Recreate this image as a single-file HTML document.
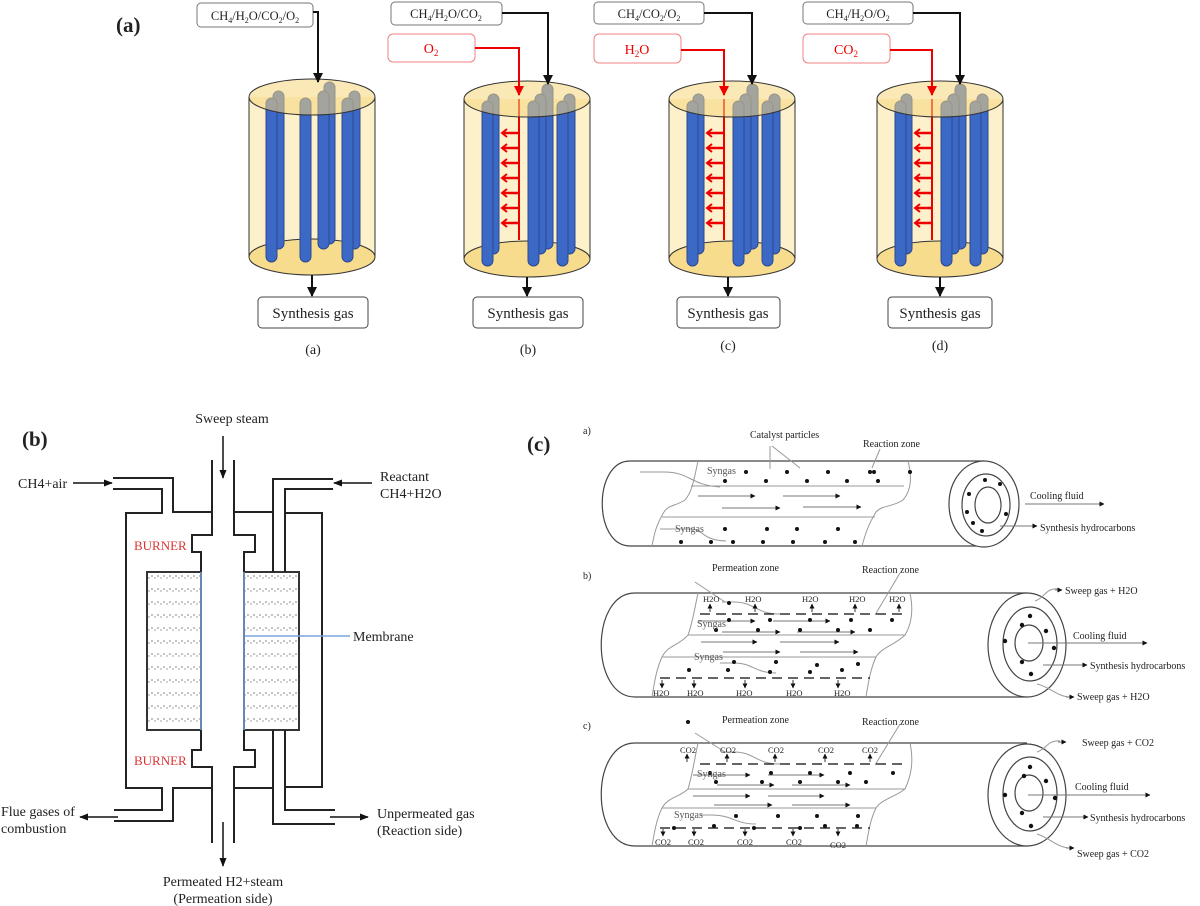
<!DOCTYPE html>
<html><head><meta charset="utf-8"><style>
html,body{margin:0;padding:0;background:#fff}
svg{display:block}
text{font-family:"Liberation Serif",serif;fill:#222}
</style></head><body>
<svg width="1200" height="906" viewBox="0 0 1200 906" xmlns="http://www.w3.org/2000/svg">
<defs>
<marker id="ab" viewBox="0 0 10 10" refX="9" refY="5" markerWidth="5" markerHeight="5" orient="auto"><path d="M0,0L10,5L0,10z" fill="#111"/></marker>
<marker id="ar" viewBox="0 0 10 10" refX="9" refY="5" markerWidth="5" markerHeight="5" orient="auto"><path d="M0,0L10,5L0,10z" fill="#e00"/></marker>
<marker id="as" viewBox="0 0 10 10" refX="9" refY="5" markerWidth="6" markerHeight="6" orient="auto"><path d="M0,1L10,5L0,9z" fill="#111"/></marker>
<pattern id="dots" width="6" height="13" patternUnits="userSpaceOnUse"><circle cx="2" cy="4" r="0.8" fill="#777"/><circle cx="5" cy="6" r="0.7" fill="#888"/></pattern>
<g id="rodsA">
<rect x="12" y="-15" width="11" height="162" rx="5.5" fill="#3d69c6" stroke="#2a4890"/>
<rect x="-39" y="-6" width="11" height="158" rx="5.5" fill="#3d69c6" stroke="#2a4890"/>
<rect x="6" y="-6" width="11" height="158" rx="5.5" fill="#3d69c6" stroke="#2a4890"/>
<rect x="37" y="-6" width="11" height="158" rx="5.5" fill="#3d69c6" stroke="#2a4890"/>
<rect x="-46" y="1" width="11" height="164" rx="5.5" fill="#3d69c6" stroke="#2a4890"/>
<rect x="-12" y="1" width="11" height="164" rx="5.5" fill="#3d69c6" stroke="#2a4890"/>
<rect x="30" y="1" width="11" height="164" rx="5.5" fill="#3d69c6" stroke="#2a4890"/>
</g>
<g id="rodsB">
<rect x="15" y="-15" width="11" height="165" rx="5.5" fill="#3d69c6" stroke="#2a4890"/>
<rect x="-39" y="-5" width="11" height="160" rx="5.5" fill="#3d69c6" stroke="#2a4890"/>
<rect x="8" y="-5" width="11" height="160" rx="5.5" fill="#3d69c6" stroke="#2a4890"/>
<rect x="37" y="-5" width="11" height="160" rx="5.5" fill="#3d69c6" stroke="#2a4890"/>
<rect x="-45" y="2" width="11" height="165" rx="5.5" fill="#3d69c6" stroke="#2a4890"/>
<rect x="1" y="2" width="11" height="165" rx="5.5" fill="#3d69c6" stroke="#2a4890"/>
<rect x="30" y="2" width="11" height="165" rx="5.5" fill="#3d69c6" stroke="#2a4890"/>
</g>
<g id="cylBack">
<rect x="-63" y="0" width="126" height="160" fill="#fdf1cc"/>
<ellipse cx="0" cy="160" rx="63" ry="18" fill="#f7dc8e" stroke="#333" stroke-width="1"/>
</g>
<g id="cylFront">
<ellipse cx="0" cy="0" rx="63" ry="18" fill="#f5d67c" fill-opacity="0.55" stroke="#333" stroke-width="1"/>
<line x1="-63" y1="0" x2="-63" y2="160" stroke="#333"/>
<line x1="63" y1="0" x2="63" y2="160" stroke="#333"/>
</g>
<g id="redArrows" stroke="#e00" stroke-width="2.5" fill="none">
<path d="M-8,34h-16M-8,49h-16M-8,64h-16M-8,79h-16M-8,94h-16M-8,109h-16M-8,124h-16"/>
<path d="M-20,30l-5,4l5,4M-20,45l-5,4l5,4M-20,60l-5,4l5,4M-20,75l-5,4l5,4M-20,90l-5,4l5,4M-20,105l-5,4l5,4M-20,120l-5,4l5,4" stroke-width="2"/>
</g>
</defs>

<text x="116" y="32" font-size="21" font-weight="bold">(a)</text>

<g transform="translate(312,97)"><use href="#cylBack"/><use href="#rodsA"/><use href="#cylFront"/></g>
<rect x="197" y="3" width="116" height="24" rx="4" fill="#fff" stroke="#777"/>
<text x="255" y="20" font-size="12.5" text-anchor="middle">CH<tspan font-size="8" dy="3">4</tspan><tspan dy="-3">/H</tspan><tspan font-size="8" dy="3">2</tspan><tspan dy="-3">O/CO</tspan><tspan font-size="8" dy="3">2</tspan><tspan dy="-3">/O</tspan><tspan font-size="8" dy="3">2</tspan></text>
<path d="M313,12H318V82" stroke="#111" stroke-width="2" fill="none" marker-end="url(#ab)"/>
<path d="M312,275V296" stroke="#111" stroke-width="2" marker-end="url(#ab)"/>
<rect x="258" y="297" width="110" height="31" rx="4" fill="#fff" stroke="#444"/>
<text x="313" y="318" font-size="15" text-anchor="middle">Synthesis gas</text>
<text x="313" y="354" font-size="14" text-anchor="middle">(a)</text>

<g transform="translate(527,99)"><use href="#cylBack"/><use href="#rodsB"/><path d="M-8,0V141" stroke="#e00" stroke-width="2"/><use href="#redArrows"/><use href="#cylFront"/></g>
<g transform="translate(732,99)"><use href="#cylBack"/><use href="#rodsB"/><path d="M-8,0V141" stroke="#e00" stroke-width="2"/><use href="#redArrows"/><use href="#cylFront"/></g>
<g transform="translate(940,99)"><use href="#cylBack"/><use href="#rodsB"/><path d="M-8,0V141" stroke="#e00" stroke-width="2"/><use href="#redArrows"/><use href="#cylFront"/></g>

<rect x="391" y="2" width="111" height="23" rx="4" fill="#fff" stroke="#777"/>
<text x="446" y="18" font-size="12.5" text-anchor="middle">CH<tspan font-size="8" dy="3">4</tspan><tspan dy="-3">/H</tspan><tspan font-size="8" dy="3">2</tspan><tspan dy="-3">O/CO</tspan><tspan font-size="8" dy="3">2</tspan></text>
<path d="M502,13H548V84" stroke="#111" stroke-width="2" fill="none" marker-end="url(#ab)"/>
<rect x="388" y="34" width="87" height="28" rx="5" fill="#fff" stroke="#f08080"/>
<text x="431" y="53" font-size="14" style="fill:#e00" text-anchor="middle">O<tspan font-size="9" dy="3">2</tspan></text>
<path d="M475,48H519V95" stroke="#e00" stroke-width="2" fill="none" marker-end="url(#ar)"/>

<rect x="594" y="2" width="110" height="22" rx="4" fill="#fff" stroke="#777"/>
<text x="649" y="18" font-size="12.5" text-anchor="middle">CH<tspan font-size="8" dy="3">4</tspan><tspan dy="-3">/CO</tspan><tspan font-size="8" dy="3">2</tspan><tspan dy="-3">/O</tspan><tspan font-size="8" dy="3">2</tspan></text>
<path d="M704,13H752V84" stroke="#111" stroke-width="2" fill="none" marker-end="url(#ab)"/>
<rect x="594" y="34" width="87" height="29" rx="5" fill="#fff" stroke="#f08080"/>
<text x="637" y="54" font-size="14" style="fill:#e00" text-anchor="middle">H<tspan font-size="9" dy="3">2</tspan><tspan dy="-3">O</tspan></text>
<path d="M681,50H724V95" stroke="#e00" stroke-width="2" fill="none" marker-end="url(#ar)"/>

<rect x="803" y="2" width="110" height="22" rx="4" fill="#fff" stroke="#777"/>
<text x="858" y="18" font-size="12.5" text-anchor="middle">CH<tspan font-size="8" dy="3">4</tspan><tspan dy="-3">/H</tspan><tspan font-size="8" dy="3">2</tspan><tspan dy="-3">O/O</tspan><tspan font-size="8" dy="3">2</tspan></text>
<path d="M913,13H960V84" stroke="#111" stroke-width="2" fill="none" marker-end="url(#ab)"/>
<rect x="803" y="34" width="87" height="29" rx="5" fill="#fff" stroke="#f08080"/>
<text x="846" y="54" font-size="14" style="fill:#e00" text-anchor="middle">CO<tspan font-size="9" dy="3">2</tspan></text>
<path d="M890,50H932V95" stroke="#e00" stroke-width="2" fill="none" marker-end="url(#ar)"/>

<path d="M527,277V296" stroke="#111" stroke-width="2" marker-end="url(#ab)"/>
<rect x="473" y="297" width="110" height="31" rx="4" fill="#fff" stroke="#444"/>
<text x="528" y="318" font-size="15" text-anchor="middle">Synthesis gas</text>
<text x="528" y="354" font-size="14" text-anchor="middle">(b)</text>
<path d="M728,277V296" stroke="#111" stroke-width="2" marker-end="url(#ab)"/>
<rect x="677" y="297" width="103" height="31" rx="4" fill="#fff" stroke="#444"/>
<text x="728" y="318" font-size="15" text-anchor="middle">Synthesis gas</text>
<text x="728" y="350" font-size="14" text-anchor="middle">(c)</text>
<path d="M940,277V296" stroke="#111" stroke-width="2" marker-end="url(#ab)"/>
<rect x="888" y="297" width="104" height="31" rx="4" fill="#fff" stroke="#444"/>
<text x="940" y="318" font-size="15" text-anchor="middle">Synthesis gas</text>
<text x="940" y="350" font-size="14" text-anchor="middle">(d)</text>

<text x="22" y="446" font-size="21" font-weight="bold">(b)</text>
<rect x="147" y="572" width="54" height="158" fill="url(#dots)" stroke="#333" stroke-width="2"/>
<rect x="244" y="572" width="55" height="158" fill="url(#dots)" stroke="#333" stroke-width="2"/>
<g stroke="#222" stroke-width="2" fill="none">
<path d="M113,478H173V512H212"/>
<path d="M212,460V535H192V552H201V572M201,730V750H192V767H212V843"/>
<path d="M113,489H162V513H126V788H162V810H114"/>
<path d="M114,821H173V788H212"/>
<path d="M234,460V535H255V552H244V572M244,730V750H255V767H234V843"/>
<path d="M234,512H273V479H333"/>
<path d="M333,489H285V572"/>
<path d="M273,512V572"/>
<path d="M285,513H322V787H285"/>
<path d="M234,788H273"/>
<path d="M273,730V824H335"/>
<path d="M285,730V810H335"/>
</g>
<g stroke="#7aa3e0" stroke-width="1.5"><line x1="201" y1="572" x2="201" y2="730"/><line x1="244" y1="572" x2="244" y2="730"/><line x1="245" y1="636" x2="350" y2="636"/></g>
<g stroke="#111" stroke-width="1.5" fill="none">
<path d="M223,436V478" marker-end="url(#as)"/>
<path d="M73,483H112" marker-end="url(#as)"/>
<path d="M372,483H334" marker-end="url(#as)"/>
<path d="M118,817H80" marker-end="url(#as)"/>
<path d="M330,817H368" marker-end="url(#as)"/>
<path d="M223,822V866" marker-end="url(#as)"/>
</g>
<g font-size="14">
<text x="232" y="423" text-anchor="middle">Sweep steam</text>
<text x="18" y="488">CH4+air</text>
<text x="380" y="481">Reactant</text>
<text x="380" y="498">CH4+H2O</text>
<text x="134" y="550" font-size="13" style="fill:#d33">BURNER</text>
<text x="134" y="765" font-size="13" style="fill:#d33">BURNER</text>
<text x="353" y="641">Membrane</text>
<text x="1" y="816">Flue gases of</text>
<text x="1" y="833">combustion</text>
<text x="377" y="818">Unpermeated gas</text>
<text x="377" y="835">(Reaction side)</text>
<text x="223" y="886" text-anchor="middle">Permeated H2+steam</text>
<text x="223" y="903" text-anchor="middle">(Permeation side)</text>
</g>

<text x="527" y="451" font-size="21" font-weight="bold">(c)</text>
<g font-size="10">
<text x="583" y="434">a)</text>
<text x="583" y="579">b)</text>
<text x="583" y="729">c)</text>
</g>

<g fill="none" stroke="#444" stroke-width="1.2">
<path d="M984,461H630C593,461 593,546 630,546H984"/>
<ellipse cx="984" cy="504" rx="35" ry="43" fill="#fff"/>
<ellipse cx="986" cy="505" rx="24" ry="31"/>
<ellipse cx="988" cy="505" rx="13" ry="18"/>
</g>
<g fill="none" stroke="#999" stroke-width="1">
<path d="M698,461C694,480 692,492 685,500C676,506 668,505 664,512C656,525 654,535 652,546"/>
<path d="M908,461C913,480 910,492 903,500C893,507 882,505 876,512C868,525 865,535 862,546"/>
<path d="M691,486H904M662,517H875"/>
<path d="M640,472H664C690,472 690,485 720,487"/>
<path d="M660,529H690C705,529 700,540 726,541"/>
<path d="M770,446L770,469M772,446L800,468M880,449L872,468"/>
</g>
<g stroke="#777" stroke-width="1" marker-end="url(#ab)">
<path d="M698,496H755"/><path d="M783,496H840"/><path d="M722,508H780"/><path d="M803,507H861"/>
<path d="M1025,504H1104"/><path d="M1000,526H1037"/>
</g>
<g fill="#111">
<circle cx="746" cy="472" r="2"/><circle cx="787" cy="472" r="2"/><circle cx="828" cy="472" r="2"/><circle cx="870" cy="472" r="2"/><circle cx="874" cy="472" r="2"/><circle cx="910" cy="472" r="2"/>
<circle cx="725" cy="481" r="2"/><circle cx="766" cy="481" r="2"/><circle cx="807" cy="481" r="2"/><circle cx="847" cy="481" r="2"/><circle cx="878" cy="481" r="2"/>
<circle cx="725" cy="529" r="2"/><circle cx="767" cy="529" r="2"/><circle cx="797" cy="529" r="2"/><circle cx="838" cy="529" r="2"/>
<circle cx="681" cy="542" r="2"/><circle cx="711" cy="542" r="2"/><circle cx="733" cy="542" r="2"/><circle cx="763" cy="542" r="2"/><circle cx="793" cy="542" r="2"/><circle cx="825" cy="542" r="2"/><circle cx="855" cy="542" r="2"/>
<circle cx="985" cy="480" r="2"/><circle cx="1000" cy="484" r="2"/><circle cx="969" cy="494" r="2"/><circle cx="967" cy="512" r="2"/><circle cx="1006" cy="514" r="2"/><circle cx="973" cy="523" r="2"/><circle cx="982" cy="531" r="2"/>
</g>
<g font-size="10">
<text x="750" y="438">Catalyst particles</text>
<text x="863" y="447">Reaction zone</text>
<text x="707" y="474" style="fill:#555">Syngas</text>
<text x="675" y="532" style="fill:#555">Syngas</text>
<text x="1030" y="499">Cooling fluid</text>
<text x="1040" y="531">Synthesis hydrocarbons</text>
</g>

<g fill="none" stroke="#444" stroke-width="1.2">
<path d="M1027,593H635C590,593 590,697 635,697H1027"/>
<ellipse cx="1027" cy="645" rx="39" ry="52" fill="#fff"/>
<ellipse cx="1030" cy="644" rx="27" ry="37"/>
<ellipse cx="1029" cy="643" rx="14" ry="18"/>
</g>
<g fill="none" stroke="#999" stroke-width="1">
<path d="M698,593C694,612 692,625 688,635C680,645 668,645 662,657C656,670 654,685 652,697"/>
<path d="M910,593C914,612 911,625 905,635C895,645 882,647 876,657C870,670 868,685 866,697"/>
<path d="M688,635H905M662,657H876"/>
<path d="M725,602L695,582M875,615L900,573M1035,601C1045,598 1045,588 1058,589M1037,684C1050,687 1055,695 1068,697"/>
<path d="M722,602H734C755,602 755,614 780,614"/>
<path d="M720,663H735C752,663 755,673 776,673"/>
</g>
<g stroke="#333" stroke-width="1.6" stroke-dasharray="10,6">
<path d="M700,614H905"/><path d="M660,678H870"/>
</g>
<g stroke="#333" stroke-width="1" marker-end="url(#ab)">
<path d="M710,612V604"/><path d="M755,612V604"/><path d="M812,612V604"/><path d="M855,612V604"/><path d="M899,612V604"/>
<path d="M662,680V688"/><path d="M694,680V688"/><path d="M745,680V688"/><path d="M793,680V688"/><path d="M838,680V688"/>
</g>
<g stroke="#777" stroke-width="1" marker-end="url(#ab)">
<path d="M698,621H755"/><path d="M773,621H830"/><path d="M722,632H780"/><path d="M797,632H855"/>
<path d="M701,642H757"/><path d="M780,642H839"/><path d="M723,652H780"/><path d="M800,652H858"/>
<path d="M1028,643H1147"/><path d="M1043,665H1087"/><path d="M1055,590H1062"/><path d="M1066,697H1074"/>
</g>
<g fill="#111">
<circle cx="729" cy="603" r="2"/><circle cx="770" cy="620" r="2"/><circle cx="810" cy="620" r="2"/><circle cx="851" cy="620" r="2"/><circle cx="892" cy="620" r="2"/><circle cx="729" cy="620" r="2"/>
<circle cx="716" cy="630" r="2"/><circle cx="758" cy="630" r="2"/><circle cx="800" cy="630" r="2"/><circle cx="838" cy="630" r="2"/><circle cx="870" cy="630" r="2"/>
<circle cx="734" cy="662" r="2"/><circle cx="776" cy="662" r="2"/><circle cx="817" cy="665" r="2"/><circle cx="858" cy="664" r="2"/><circle cx="689" cy="670" r="2"/><circle cx="728" cy="670" r="2"/><circle cx="770" cy="672" r="2"/><circle cx="810" cy="672" r="2"/><circle cx="842" cy="670" r="2"/>
<circle cx="1030" cy="616" r="2.2"/><circle cx="1022" cy="625" r="2.2"/><circle cx="1046" cy="631" r="2.2"/><circle cx="1005" cy="641" r="2.2"/><circle cx="1054" cy="648" r="2.2"/><circle cx="1022" cy="662" r="2.2"/><circle cx="1031" cy="674" r="2.2"/>
</g>
<g font-size="10">
<text x="712" y="571">Permeation zone</text>
<text x="862" y="573">Reaction zone</text>
<g font-size="8.5"><text x="703" y="602">H2O</text><text x="745" y="602">H2O</text><text x="802" y="602">H2O</text><text x="849" y="602">H2O</text><text x="889" y="602">H2O</text>
<text x="653" y="696">H2O</text><text x="687" y="696">H2O</text><text x="736" y="696">H2O</text><text x="786" y="696">H2O</text><text x="834" y="696">H2O</text></g>
<text x="697" y="627" style="fill:#555">Syngas</text>
<text x="694" y="660" style="fill:#555">Syngas</text>
<text x="1065" y="594">Sweep gas + H2O</text>
<text x="1073" y="639">Cooling fluid</text>
<text x="1090" y="669">Synthesis hydrocarbons</text>
<text x="1077" y="700">Sweep gas + H2O</text>
</g>

<g fill="none" stroke="#444" stroke-width="1.2">
<path d="M1027,743H635C590,743 590,846 635,846H1027"/>
<ellipse cx="1027" cy="795" rx="39" ry="51" fill="#fff"/>
<ellipse cx="1030" cy="794" rx="27" ry="37"/>
<ellipse cx="1029" cy="793" rx="14" ry="18"/>
</g>
<g fill="none" stroke="#999" stroke-width="1">
<path d="M698,743C694,762 692,776 688,789C680,797 668,797 662,808C656,820 654,835 652,846"/>
<path d="M910,743C914,762 911,776 905,789C895,797 882,799 876,808C870,820 868,835 866,846"/>
<path d="M688,789H905M662,808H876"/>
<path d="M725,752L695,733M875,765L900,724M1037,752C1047,749 1047,740 1060,741M1037,834C1050,838 1055,846 1068,848"/>
<path d="M722,752H734C755,752 755,764 780,764"/>
<path d="M700,815H712C732,815 735,824 756,824"/>
</g>
<g stroke="#333" stroke-width="1.6" stroke-dasharray="10,6">
<path d="M700,764H905"/><path d="M660,828H870"/>
</g>
<g stroke="#333" stroke-width="1" marker-end="url(#ab)">
<path d="M687,762V754"/><path d="M727,762V754"/><path d="M775,762V754"/><path d="M825,762V754"/><path d="M870,762V754"/>
<path d="M663,829V836"/><path d="M694,829V836"/><path d="M745,829V836"/><path d="M793,829V836"/><path d="M838,829V836"/>
</g>
<g stroke="#777" stroke-width="1" marker-end="url(#ab)">
<path d="M693,775H750"/><path d="M768,775H824"/><path d="M717,785H774"/><path d="M792,785H850"/>
<path d="M693,796H750"/><path d="M768,796H824"/><path d="M714,805H772"/><path d="M792,805H850"/>
<path d="M1028,795H1150"/><path d="M1043,817H1088"/><path d="M1058,742H1066"/><path d="M1066,848H1074"/>
</g>
<g fill="#111">
<circle cx="688" cy="722" r="2"/><circle cx="710" cy="773" r="2"/><circle cx="771" cy="773" r="2"/><circle cx="810" cy="773" r="2"/><circle cx="850" cy="773" r="2"/><circle cx="893" cy="773" r="2"/>
<circle cx="716" cy="782" r="2"/><circle cx="762" cy="782" r="2"/><circle cx="800" cy="782" r="2"/><circle cx="838" cy="782" r="2"/><circle cx="866" cy="782" r="2"/>
<circle cx="736" cy="816" r="2"/><circle cx="778" cy="816" r="2"/><circle cx="817" cy="816" r="2"/><circle cx="858" cy="816" r="2"/><circle cx="674" cy="828" r="2"/><circle cx="714" cy="826" r="2"/><circle cx="754" cy="828" r="2"/><circle cx="800" cy="828" r="2"/><circle cx="825" cy="826" r="2"/><circle cx="857" cy="826" r="2"/>
<circle cx="1030" cy="767" r="2.2"/><circle cx="1024" cy="776" r="2.2"/><circle cx="1046" cy="781" r="2.2"/><circle cx="1005" cy="795" r="2.2"/><circle cx="1055" cy="798" r="2.2"/><circle cx="1022" cy="813" r="2.2"/><circle cx="1031" cy="826" r="2.2"/>
</g>
<g font-size="10">
<text x="722" y="723">Permeation zone</text>
<text x="862" y="725">Reaction zone</text>
<g font-size="8.5"><text x="680" y="753">CO2</text><text x="720" y="753">CO2</text><text x="768" y="753">CO2</text><text x="818" y="753">CO2</text><text x="862" y="753">CO2</text>
<text x="655" y="845">CO2</text><text x="688" y="845">CO2</text><text x="737" y="845">CO2</text><text x="786" y="845">CO2</text><text x="830" y="848">CO2</text></g>
<text x="697" y="777" style="fill:#555">Syngas</text>
<text x="674" y="818" style="fill:#555">Syngas</text>
<text x="1082" y="746">Sweep gas + CO2</text>
<text x="1075" y="790">Cooling fluid</text>
<text x="1090" y="821">Synthesis hydrocarbons</text>
<text x="1077" y="857">Sweep gas + CO2</text>
</g>
</svg>
</body></html>
